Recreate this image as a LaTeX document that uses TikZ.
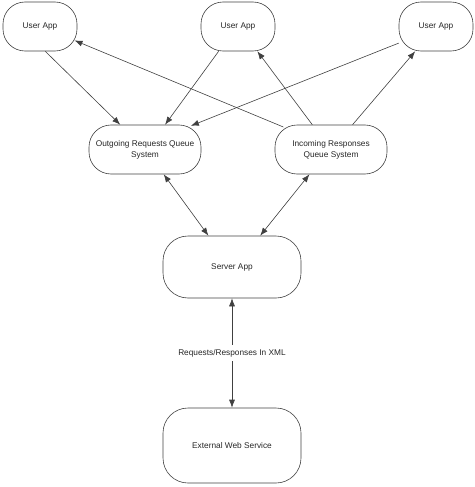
\documentclass[tikz,border=0pt]{standalone}
\usepackage{fontspec}
\setmainfont{Liberation Sans}
\usetikzlibrary{arrows.meta}
\begin{document}
\begin{tikzpicture}[x=1pt,y=-1pt, >={Latex[length=8pt, width=6pt]}]

	\def\r{22}				% radius of the rounded corners
	\def\R{25}				% radius of the corners of the big boxes
	\def\ylevel{26.5}		% height of the row of user apps
	
	\tikzset{
		box/.style={draw=black!75, line width=0.6pt, rounded corners=\r pt, align=center, text=black!85, font=\fontsize{8.3}{11}\selectfont},
		appbox/.style={box, minimum width=74pt, minimum height=49pt},
		queuebox/.style={box, minimum width=112pt, minimum height=49pt},
		bigbox/.style={box, rounded corners=\R pt, minimum width=138pt},
		link/.style={draw=black!75, line width=0.6pt}
	}
	
	\useasboundingbox (0,0) rectangle (474,487);
	
	\foreach \i/\x in {1/40, 2/238, 3/436}{% draw the user apps
		\draw (\x,\ylevel) node[appbox] (user\i){User App};
	}
	
	% the two queues
	\draw (145,149.5) node[queuebox] (outq){Outgoing Requests Queue\\System};
	\draw (331,149.5) node[queuebox] (inq){Incoming Responses\\Queue System};
	
	% server and web service
	\draw (232,267) node[bigbox, minimum height=62pt] (server){Server App};
	\draw (232,445.5) node[bigbox, minimum height=75pt] (webservice){External Web Service};
	
	% requests from the user apps
	\draw[link, ->] (user1.-78) -- (outq.135);
	\draw[link, ->] (user2.-128) -- (outq.51);
	\draw[link, ->, shorten >=-3pt] (user3.-156) -- (outq.27);
	
	% responses back to the user apps
	\draw[link, ->, shorten <=-6pt, shorten >=-3pt] (inq.155) -- (user1.-22);
	\draw[link, ->] (inq.127) -- (user2.-52);
	\draw[link, ->] (inq.49) -- (user3.-130);
	
	% queues and server
	\draw[link, <->] (outq.-53) -- (server.127);
	\draw[link, <->] (inq.-131) -- (server.48);
	\draw[link, <->] (server) -- node[fill=white, text=black!85, inner sep=4pt, font=\fontsize{8.3}{11}\selectfont]{Requests/Responses In XML} (webservice);
	
\end{tikzpicture}
\end{document}
